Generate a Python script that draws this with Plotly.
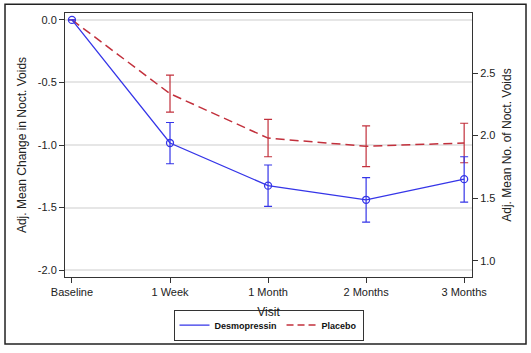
import plotly.graph_objects as go

visits = ["Baseline", "1 Week", "1 Month", "2 Months", "3 Months"]
desmo_mean = [0.0, -0.984, -1.325, -1.438, -1.273]
desmo_lo = [0.0, -1.15, -1.49, -1.617, -1.457]
desmo_hi = [0.0, -0.82, -1.16, -1.26, -1.094]
plac_mean = [0.0, -0.59, -0.945, -1.01, -0.984]
plac_lo = [0.0, -0.738, -1.094, -1.173, -1.142]
plac_hi = [0.0, -0.441, -0.795, -0.847, -0.826]
baseline_voids = 2.925
left_ticks = [0.0, -0.5, -1.0, -1.5, -2.0]
right_ticks = [1.0, 1.5, 2.0, 2.5]

xs = list(range(len(visits)))
BLUE = "#3535E8"
RED = "#C2303C"
DASH = "9px,5px"

def err(mean, lo, hi):
    return dict(type="data", symmetric=False,
                array=[h - m for h, m in zip(hi, mean)],
                arrayminus=[m - l for m, l in zip(mean, lo)])

fig = go.Figure()
fig.add_trace(go.Scatter(
    x=xs, y=plac_mean, name="Placebo", mode="lines", showlegend=False,
    line=dict(color=RED, width=1.5, dash=DASH),
    error_y=dict(**err(plac_mean, plac_lo, plac_hi), color=RED, thickness=1.2, width=4),
))
fig.add_trace(go.Scatter(
    x=xs, y=desmo_mean, name="Desmopressin", mode="lines+markers", showlegend=False,
    line=dict(color=BLUE, width=1.3),
    marker=dict(symbol="circle-open", size=7, color=BLUE, line=dict(width=1.3)),
    error_y=dict(**err(desmo_mean, desmo_lo, desmo_hi), color=BLUE, thickness=1.2, width=4),
))
# legend entries (line only, as in the reference)
fig.add_trace(go.Scatter(x=[None], y=[None], name="Desmopressin", mode="lines",
                         line=dict(color=BLUE, width=1.3)))
fig.add_trace(go.Scatter(x=[None], y=[None], name="Placebo", mode="lines",
                         line=dict(color=RED, width=1.5, dash="7px,4px")))
fig.add_trace(go.Scatter(x=[0], y=[baseline_voids], yaxis="y2", mode="markers",
                         marker=dict(opacity=0), showlegend=False, hoverinfo="skip"))

lo_r, hi_r = -2.055, 0.055
tickfont = dict(family="Arial, Liberation Sans, sans-serif", size=11, color="#222")
fig.update_layout(
    width=531, height=353,
    margin=dict(l=65, r=59, t=13, b=72),
    paper_bgcolor="white", plot_bgcolor="white",
    font=tickfont,
    xaxis=dict(range=[-0.071, 4.08], tickvals=xs, ticktext=visits,
               ticks="outside", ticklen=5, tickcolor="#333",
               showline=True, linecolor="#333", linewidth=1, mirror=True,
               showgrid=False, zeroline=False,
               title=dict(text="Visit", font=dict(size=12), standoff=10)),
    yaxis=dict(range=[lo_r, hi_r], tickvals=left_ticks,
               ticktext=["%.1f" % v if v != 0 else "0.0" for v in left_ticks],
               ticks="outside", ticklen=5, tickcolor="#333",
               showline=True, linecolor="#333", linewidth=1,
               showgrid=True, gridcolor="#E6E6E6", gridwidth=1.5, zeroline=False,
               title=dict(text="Adj. Mean Change in Noct. Voids", font=dict(size=12), standoff=8)),
    yaxis2=dict(range=[lo_r + baseline_voids, hi_r + baseline_voids], overlaying="y", side="right",
                tickvals=right_ticks, ticktext=["%.1f" % v for v in right_ticks],
                ticks="outside", ticklen=5, tickcolor="#333",
                showline=True, linecolor="#333", linewidth=1,
                showgrid=False, zeroline=False,
                title=dict(text="Adj. Mean No. of Noct. Voids", font=dict(size=12), standoff=8)),
    legend=dict(orientation="h", x=0.5, xanchor="center", y=-0.182, yanchor="middle",
                bordercolor="#333", borderwidth=1,
                font=dict(size=9, family="Arial, Liberation Sans, sans-serif", color="#111", weight="bold"),
                itemwidth=30),
    showlegend=True,
)
fig.add_shape(type="rect", xref="paper", yref="paper",
              x0=-0.1474, x1=1.1327, y0=-0.2537, y1=1.0336,
              line=dict(color="#222", width=1.5), fillcolor="rgba(0,0,0,0)")
fig.write_html("out.html")
